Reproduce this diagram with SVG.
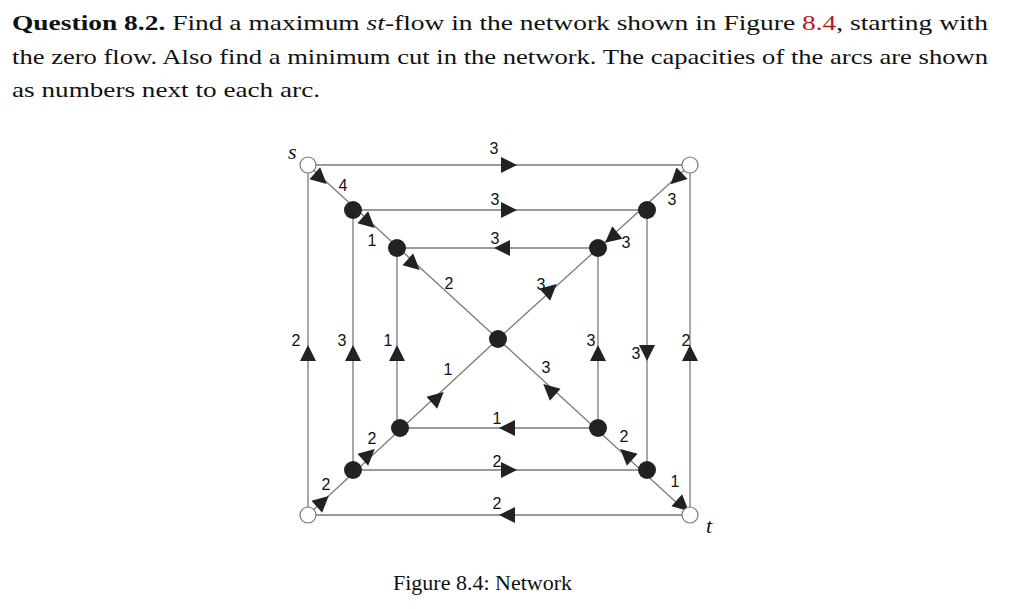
<svg xmlns="http://www.w3.org/2000/svg" xmlns:xlink="http://www.w3.org/1999/xlink" width="1016" height="609" viewBox="0 0 1016 609">
<style>
.t{font-family:"Liberation Serif",serif;font-size:22px;fill:#111}
.l{font-family:"Liberation Sans",Arial,sans-serif;font-size:16px;fill:#111;text-anchor:middle}
.e{stroke:#7a7a7a;stroke-width:1.3;fill:none}
.w{fill:#fff;stroke:#777;stroke-width:1.2}
.b{fill:#222}
</style>
<defs><path id="ah" d="M9,0 L-7,-8 L-7,8 Z" fill="#222"/></defs>
<rect width="1016" height="609" fill="#fff"/>
<text class="t" x="12" y="30" textLength="976" lengthAdjust="spacingAndGlyphs"><tspan font-weight="bold">Question 8.2.</tspan> Find a maximum <tspan font-style="italic">st</tspan>-flow in the network shown in Figure <tspan fill="#c0141c">8.4</tspan>, starting with</text>
<text class="t" x="12" y="64" textLength="976" lengthAdjust="spacingAndGlyphs">the zero flow. Also find a minimum cut in the network. The capacities of the arcs are shown</text>
<text class="t" x="12" y="97" textLength="308" lengthAdjust="spacingAndGlyphs">as numbers next to each arc.</text>
<g id="connectors">
<path class="e" d="M308,165H690M353,210H647M397,248H598M400,428H598M353,470H647M308,515H690"/>
<path class="e" d="M308,165V515M353,210V470M397,248V428M598,248V428M647,210V470M690,165V515"/>
<path class="e" d="M308,165L498,339L690,515M690,165L498,339L308,515"/>
<use xlink:href="#ah" transform="translate(508,165)"/>
<use xlink:href="#ah" transform="translate(508,210)"/>
<use xlink:href="#ah" transform="translate(503,248) rotate(180)"/>
<use xlink:href="#ah" transform="translate(508,428) rotate(180)"/>
<use xlink:href="#ah" transform="translate(508,470)"/>
<use xlink:href="#ah" transform="translate(508,515) rotate(180)"/>
<use xlink:href="#ah" transform="translate(308,354) rotate(-90)"/>
<use xlink:href="#ah" transform="translate(353,354) rotate(-90)"/>
<use xlink:href="#ah" transform="translate(397,354) rotate(-90)"/>
<use xlink:href="#ah" transform="translate(598,354) rotate(-90)"/>
<use xlink:href="#ah" transform="translate(647,352) rotate(90)"/>
<use xlink:href="#ah" transform="translate(690,354) rotate(-90)"/>
<use xlink:href="#ah" transform="translate(320,178) rotate(42)"/>
<use xlink:href="#ah" transform="translate(368,222) rotate(42)"/>
<use xlink:href="#ah" transform="translate(413,264) rotate(42)"/>
<use xlink:href="#ah" transform="translate(677,178) rotate(136)"/>
<use xlink:href="#ah" transform="translate(612,237) rotate(140)"/>
<use xlink:href="#ah" transform="translate(550,290) rotate(-42)"/>
<use xlink:href="#ah" transform="translate(437,398) rotate(-42)"/>
<use xlink:href="#ah" transform="translate(550,390) rotate(-138)"/>
<use xlink:href="#ah" transform="translate(322,502) rotate(-42)"/>
<use xlink:href="#ah" transform="translate(368,455) rotate(-42)"/>
<use xlink:href="#ah" transform="translate(627,455) rotate(-138)"/>
<use xlink:href="#ah" transform="translate(682,505) rotate(42)"/>
</g>
<g id="labels">
<text class="l" x="494" y="154">3</text>
<text class="l" x="495" y="205">3</text>
<text class="l" x="495" y="244">3</text>
<text class="l" x="497" y="424">1</text>
<text class="l" x="497" y="467">2</text>
<text class="l" x="497" y="509">2</text>
<text class="l" x="296" y="346">2</text>
<text class="l" x="342" y="346">3</text>
<text class="l" x="388" y="346">1</text>
<text class="l" x="591" y="346">3</text>
<text class="l" x="636" y="359">3</text>
<text class="l" x="686" y="346">2</text>
<text class="l" x="343" y="191">4</text>
<text class="l" x="372" y="246">1</text>
<text class="l" x="449" y="289">2</text>
<text class="l" x="672" y="205">3</text>
<text class="l" x="626" y="248">3</text>
<text class="l" x="541" y="290">3</text>
<text class="l" x="448" y="375">1</text>
<text class="l" x="546" y="373">3</text>
<text class="l" x="326" y="490">2</text>
<text class="l" x="372" y="444">2</text>
<text class="l" x="624" y="442">2</text>
<text class="l" x="675" y="487">1</text>
</g>
<g id="nodes">
<circle id="s" class="w" cx="308" cy="165" r="8"/>
<circle id="tr" class="w" cx="690" cy="165" r="8"/>
<circle id="bl" class="w" cx="308" cy="515" r="8"/>
<circle id="t" class="w" cx="690" cy="515" r="8"/>
<circle id="n1" class="b" cx="353" cy="210" r="9"/>
<circle id="n2" class="b" cx="647" cy="210" r="9"/>
<circle id="n3" class="b" cx="397" cy="248" r="9"/>
<circle id="n4" class="b" cx="598" cy="248" r="9"/>
<circle id="c" class="b" cx="498" cy="339" r="9"/>
<circle id="n5" class="b" cx="400" cy="428" r="9"/>
<circle id="n6" class="b" cx="598" cy="428" r="9"/>
<circle id="n7" class="b" cx="353" cy="470" r="9"/>
<circle id="n8" class="b" cx="647" cy="470" r="9"/>
</g>
<text class="t" x="288" y="159" font-style="italic" font-size="20">s</text>
<text class="t" x="706" y="533" font-style="italic" font-size="18">t</text>
<text class="t" x="393" y="590">Figure 8.4: Network</text>
</svg>
